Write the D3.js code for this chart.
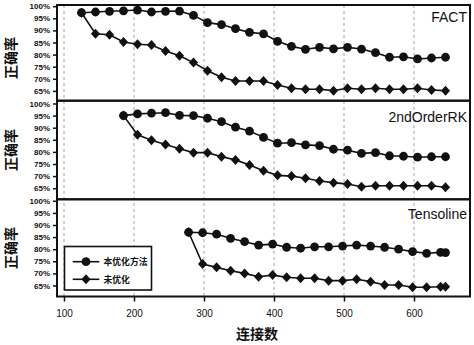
<!DOCTYPE html>
<html>
<head>
<meta charset="utf-8">
<script src="https://cdn.jsdelivr.net/npm/d3@7"></script>
<style>
  body { margin: 0; background: #fff; }
  svg { display: block; }
</style>
</head>
<body>
<svg id="chart" width="474" height="345"></svg>
<script>
// ---- data ----
const panelNames = ["FACT", "2ndOrderRK", "Tensoline"];
const seriesNames = ["本优化方法", "未优化"];
const yTickValues = [65, 70, 75, 80, 85, 90, 95, 100];
const xTickValues = [100, 200, 300, 400, 500, 600];
const xAxisTitle = "连接数";
const yAxisTitle = "正确率";

const factConn = [125, 145, 165, 185, 205, 225, 245, 265, 285, 305, 325, 345, 365, 385,
                  405, 425, 445, 465, 485, 505, 525, 545, 565, 585, 605, 625, 645];
const factOpt  = [97.3, 97.6, 97.9, 98.1, 98.4, 97.6, 97.9, 98.0, 96.2, 93.2, 92.4, 90.7, 89.2, 88.6,
                  85.5, 83.4, 82.2, 83.0, 82.4, 83.0, 82.3, 80.8, 78.9, 79.1, 78.2, 78.6, 78.9];
const factBase = [97.3, 88.6, 88.2, 85.2, 84.3, 84.0, 81.5, 79.5, 76.7, 73.3, 70.6, 69.1, 69.1, 69.1,
                  67.4, 66.1, 65.7, 65.7, 65.1, 66.1, 65.7, 66.1, 65.7, 65.7, 66.1, 65.4, 65.1];

const rkConn = [185, 205, 225, 245, 265, 285, 305, 325, 345, 365, 385, 405,
                425, 445, 465, 485, 505, 525, 545, 565, 585, 605, 625, 645];
const rkOpt  = [95.0, 95.7, 96.0, 96.2, 95.1, 95.0, 93.9, 92.5, 90.2, 88.6, 86.0, 83.6,
                83.8, 82.9, 82.6, 81.1, 80.7, 79.4, 79.7, 78.4, 78.2, 77.8, 78.0, 78.0];
const rkBase = [95.0, 87.1, 84.8, 83.1, 81.3, 79.7, 79.7, 78.0, 76.7, 74.6, 72.2, 70.3,
                70.0, 69.1, 68.0, 67.3, 66.7, 65.6, 66.0, 66.0, 66.0, 66.0, 66.0, 65.4];

const tensConn = [278, 298, 318, 338, 358, 378, 398, 418, 438, 458,
                  478, 498, 518, 538, 558, 578, 598, 618, 638, 645];
const tensOpt  = [87.0, 86.8, 86.2, 84.5, 83.1, 81.7, 82.1, 80.8, 80.4, 81.0,
                  81.0, 81.3, 81.7, 81.3, 80.8, 80.0, 79.0, 78.3, 78.7, 78.6];
const tensBase = [87.0, 73.9, 72.5, 71.1, 70.0, 68.6, 69.3, 68.4, 68.0, 68.0,
                  67.0, 67.0, 67.6, 66.6, 65.2, 65.2, 64.3, 64.3, 64.5, 64.5];

const panelConn = [factConn, rkConn, tensConn];
const panelOpt  = [factOpt, rkOpt, tensOpt];
const panelBase = [factBase, rkBase, tensBase];

// ---- layout ----
const plotLeft = 57, plotRight = 470;
const panelTop = [5, 100.7, 199.3];
const panelBottom = [100.7, 199.3, 296.5];
const y100 = [6.2, 103.5, 200.8];   // pixel row of the 100% tick in each panel
const yUnit = 2.42;                  // pixels per percentage point
const titleBaseline = [21.7, 121.7, 219.3];
const yTitleCenter = [58, 150, 248];

const svg = d3.select("#chart");
const x = d3.scaleLinear().domain([90, 680]).range([plotLeft, plotRight]);

const ink = "#111";
const tickFont = "Liberation Sans, Arial, sans-serif";
const cjkFont = "Noto Sans CJK SC, sans-serif";

const diamond = "M0,-5L4.6,0L0,5L-4.6,0Z";
function drawMarker(sel, kind) {
  if (kind === 0) {
    sel.append("circle").attr("r", 4.4).attr("fill", ink);
  } else {
    sel.append("path").attr("d", diamond).attr("fill", ink);
  }
}

// vertical dashed grid across all panels
svg.append("g").selectAll("line").data(xTickValues).join("line")
  .attr("x1", d => x(d)).attr("x2", d => x(d))
  .attr("y1", panelTop[0]).attr("y2", panelBottom[2])
  .attr("stroke", "#9a9a9a").attr("stroke-width", 0.9)
  .attr("stroke-dasharray", "3,3");

panelNames.forEach((name, i) => {
  const y = d3.scaleLinear().domain([60, 100]).range([y100[i] + 40 * yUnit, y100[i]]);
  const g = svg.append("g");

  // frame
  g.append("rect")
    .attr("x", plotLeft).attr("y", panelTop[i])
    .attr("width", plotRight - plotLeft).attr("height", panelBottom[i] - panelTop[i])
    .attr("fill", "none").attr("stroke", ink).attr("stroke-width", 2);

  // y axis
  const ax = g.append("g").attr("transform", `translate(${plotLeft},0)`)
    .call(d3.axisLeft(y).tickValues(yTickValues).tickSize(4).tickPadding(3)
      .tickFormat(d => d + "%"));
  ax.select(".domain").remove();
  ax.selectAll("line").attr("stroke", ink).attr("stroke-width", 1.5);
  ax.selectAll("text").attr("font-family", tickFont).attr("font-size", 8)
    .attr("font-weight", "bold").attr("fill", ink);

  const conn = panelConn[i];
  const series = [panelOpt[i], panelBase[i]];
  const line = d3.line().x(d => x(d[0])).y(d => y(d[1]));

  series.forEach((vals, s) => {
    const pts = conn.map((c, k) => [c, vals[k]]);
    g.append("path").datum(pts).attr("d", line)
      .attr("fill", "none").attr("stroke", ink).attr("stroke-width", 1.6);
    const m = g.append("g").selectAll("g").data(pts).join("g")
      .attr("transform", d => `translate(${x(d[0])},${y(d[1])})`);
    drawMarker(m, s);
  });

  // panel title
  g.append("text").attr("x", plotRight - 3).attr("y", titleBaseline[i])
    .attr("text-anchor", "end").attr("font-family", tickFont)
    .attr("font-size", 14).attr("fill", ink).text(name);

  // y axis title
  g.append("text")
    .attr("transform", `translate(16,${yTitleCenter[i]}) rotate(-90)`)
    .attr("text-anchor", "middle").attr("font-family", cjkFont)
    .attr("font-weight", "bold").attr("font-size", 14).attr("fill", ink)
    .text(yAxisTitle);
});

// x axis
const xa = svg.append("g").attr("transform", `translate(0,${panelBottom[2]})`)
  .call(d3.axisBottom(x).tickValues(xTickValues).tickSize(5).tickPadding(8));
xa.select(".domain").remove();
xa.selectAll("line").attr("stroke", ink).attr("stroke-width", 1.5);
xa.selectAll("text").attr("font-family", tickFont).attr("font-size", 10).attr("fill", ink);

svg.append("text").attr("x", 257).attr("y", 339)
  .attr("text-anchor", "middle").attr("font-family", cjkFont)
  .attr("font-weight", "bold").attr("font-size", 14).attr("fill", ink)
  .text(xAxisTitle);

// legend
const lg = svg.append("g");
lg.append("rect").attr("x", 64.5).attr("y", 246.5).attr("width", 87).attr("height", 43.5)
  .attr("fill", "#fff").attr("stroke", ink).attr("stroke-width", 1.6);
const legendRows = [261.7, 279.3];
seriesNames.forEach((nm, s) => {
  const row = lg.append("g").attr("transform", `translate(0,${legendRows[s]})`);
  row.append("line").attr("x1", 72.7).attr("x2", 99.3)
    .attr("stroke", ink).attr("stroke-width", 1.6);
  const mk = row.append("g").attr("transform", "translate(86,0)");
  drawMarker(mk, s);
  row.append("text").attr("x", 103.5).attr("y", 3.3)
    .attr("font-family", cjkFont).attr("font-weight", "bold")
    .attr("font-size", 8.8).attr("fill", ink).text(nm);
});
</script>
</body>
</html>
